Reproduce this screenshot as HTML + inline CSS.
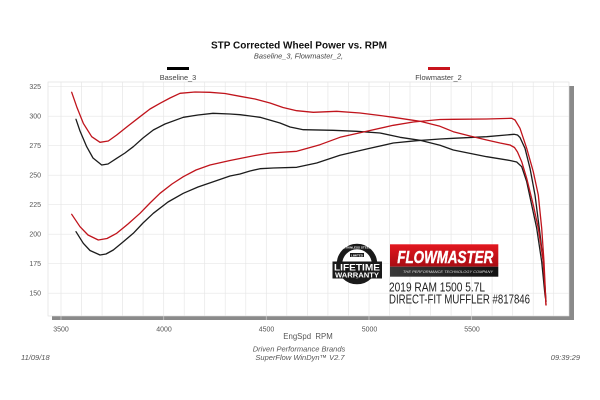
<!DOCTYPE html>
<html><head><meta charset="utf-8"><style>
html,body{margin:0;padding:0;background:#fff;}
svg{display:block;}
text{font-family:"Liberation Sans",Arial,sans-serif;}
</style></head><body>
<svg width="600" height="400" viewBox="0 0 600 400" xmlns="http://www.w3.org/2000/svg">
<defs>
<linearGradient id="rg" x1="0" y1="0" x2="0" y2="1">
<stop offset="0" stop-color="#e3171f"/><stop offset="1" stop-color="#a80d14"/>
</linearGradient>
<linearGradient id="dg" x1="0" y1="0" x2="1" y2="0">
<stop offset="0" stop-color="#3a3a3a"/><stop offset="1" stop-color="#111"/>
</linearGradient>
</defs>
<rect width="600" height="400" fill="#fff"/>
<!-- titles -->
<text x="299" y="48.3" font-size="10" font-weight="bold" text-anchor="middle" fill="#111">STP Corrected Wheel Power vs. RPM</text>
<text x="298.5" y="58.3" font-size="7.4" font-style="italic" text-anchor="middle" fill="#444">Baseline_3, Flowmaster_2,</text>
<!-- legend -->
<rect x="167" y="67" width="22" height="3" fill="#000"/>
<text x="178" y="80" font-size="7.4" text-anchor="middle" fill="#444">Baseline_3</text>
<rect x="428" y="67" width="22" height="3" fill="#c8141c"/>
<text x="438.5" y="80" font-size="7.4" text-anchor="middle" fill="#444">Flowmaster_2</text>
<!-- plot frame with shadow -->
<rect x="52" y="86" width="522" height="234" fill="#8a8a8a"/>
<rect x="48" y="82" width="521" height="234" fill="#fff" stroke="#dcdcdc" stroke-width="0.6"/>
<g stroke="#c8c8c8" stroke-width="0.8">
<line x1="61" y1="316" x2="61" y2="320"/><line x1="163.7" y1="316" x2="163.7" y2="320"/><line x1="266.3" y1="316" x2="266.3" y2="320"/><line x1="369" y1="316" x2="369" y2="320"/><line x1="471.6" y1="316" x2="471.6" y2="320"/>
</g>
<!-- grid -->
<g stroke="#e6e6e6" stroke-width="0.7">
<line x1="61" y1="82" x2="61" y2="316"/><line x1="81.5" y1="82" x2="81.5" y2="316"/><line x1="102.1" y1="82" x2="102.1" y2="316"/><line x1="122.6" y1="82" x2="122.6" y2="316"/><line x1="143.1" y1="82" x2="143.1" y2="316"/><line x1="163.7" y1="82" x2="163.7" y2="316"/><line x1="184.2" y1="82" x2="184.2" y2="316"/><line x1="204.7" y1="82" x2="204.7" y2="316"/><line x1="225.2" y1="82" x2="225.2" y2="316"/><line x1="245.8" y1="82" x2="245.8" y2="316"/><line x1="266.3" y1="82" x2="266.3" y2="316"/><line x1="286.8" y1="82" x2="286.8" y2="316"/><line x1="307.4" y1="82" x2="307.4" y2="316"/><line x1="327.9" y1="82" x2="327.9" y2="316"/><line x1="348.4" y1="82" x2="348.4" y2="316"/><line x1="369" y1="82" x2="369" y2="316"/><line x1="389.5" y1="82" x2="389.5" y2="316"/><line x1="410" y1="82" x2="410" y2="316"/><line x1="430.5" y1="82" x2="430.5" y2="316"/><line x1="451.1" y1="82" x2="451.1" y2="316"/><line x1="471.6" y1="82" x2="471.6" y2="316"/><line x1="492.1" y1="82" x2="492.1" y2="316"/><line x1="512.7" y1="82" x2="512.7" y2="316"/><line x1="533.2" y1="82" x2="533.2" y2="316"/><line x1="553.7" y1="82" x2="553.7" y2="316"/>
<line x1="48" y1="86.7" x2="569" y2="86.7"/><line x1="48" y1="116.2" x2="569" y2="116.2"/><line x1="48" y1="145.7" x2="569" y2="145.7"/><line x1="48" y1="175.2" x2="569" y2="175.2"/><line x1="48" y1="204.7" x2="569" y2="204.7"/><line x1="48" y1="234.2" x2="569" y2="234.2"/><line x1="48" y1="263.7" x2="569" y2="263.7"/><line x1="48" y1="293.2" x2="569" y2="293.2"/>
</g>
<!-- y labels -->
<g font-size="7" fill="#555" text-anchor="end">
<text x="41" y="89.2">325</text><text x="41" y="118.7">300</text><text x="41" y="148.2">275</text><text x="41" y="177.7">250</text><text x="41" y="207.2">225</text><text x="41" y="236.7">200</text><text x="41" y="266.2">175</text><text x="41" y="295.7">150</text>
</g>
<!-- x labels -->
<g font-size="7" fill="#555" text-anchor="middle">
<text x="61" y="331.5">3500</text><text x="164" y="331.5">4000</text><text x="266.5" y="331.5">4500</text><text x="369.5" y="331.5">5000</text><text x="472" y="331.5">5500</text>
</g>
<text x="308" y="339" font-size="7.8" fill="#555" text-anchor="middle" xml:space="preserve">EngSpd  RPM</text>
<text x="299" y="351.5" font-size="7.5" font-style="italic" fill="#555" text-anchor="middle">Driven Performance Brands</text>
<text x="300" y="360" font-size="7.5" font-style="italic" fill="#555" text-anchor="middle">SuperFlow WinDyn™ V2.7</text>
<text x="21" y="360" font-size="7.5" font-style="italic" fill="#555">11/09/18</text>
<text x="580" y="360" font-size="7.5" font-style="italic" fill="#555" text-anchor="end">09:39:29</text>
<!-- badge -->
<g>
<circle cx="357" cy="264" r="17.5" fill="#fff" stroke="#1a1a1a" stroke-width="5.5"/>
<rect x="350" y="253" width="14" height="4" fill="#1a1a1a"/>
<text x="357" y="248.5" font-size="3" font-weight="bold" fill="#fff" text-anchor="middle">STAINLESS STEEL</text>
<text x="357" y="256.3" font-size="3" font-weight="bold" fill="#fff" text-anchor="middle">LIMITED</text>
<rect x="332.5" y="261.5" width="49.5" height="17" fill="#1a1a1a"/>
<text x="357" y="270.5" font-size="9" font-weight="bold" fill="#fff" text-anchor="middle" textLength="46" lengthAdjust="spacingAndGlyphs">LIFETIME</text>
<text x="357" y="277.6" font-size="7" font-weight="bold" fill="#fff" text-anchor="middle" textLength="44" lengthAdjust="spacingAndGlyphs">WARRANTY</text>
</g>
<!-- flowmaster box -->
<rect x="390" y="244.3" width="108.3" height="22.4" fill="url(#rg)"/>
<rect x="390" y="266.7" width="108.3" height="10" fill="url(#dg)"/>
<text x="397.3" y="263" font-size="17.5" font-weight="bold" font-style="italic" fill="#fff" stroke="#fff" stroke-width="0.4" textLength="96" lengthAdjust="spacingAndGlyphs">FLOWMASTER</text>
<text x="403" y="273" font-size="3.6" font-style="italic" fill="#ddd" textLength="90" lengthAdjust="spacingAndGlyphs">THE PERFORMANCE TECHNOLOGY COMPANY</text>
<text x="389" y="291.5" font-size="12.5" fill="#222" textLength="96" lengthAdjust="spacingAndGlyphs">2019 RAM 1500 5.7L</text>
<text x="389" y="303.5" font-size="12.5" fill="#222" textLength="141" lengthAdjust="spacingAndGlyphs">DIRECT-FIT MUFFLER #817846</text>
<!-- series -->
<g fill="none" stroke-width="1.3" stroke-linejoin="round" stroke-linecap="round">
<polyline stroke="#1c1c1c" points="76,119.3 80,131 86.7,146.7 93,158 101.7,165 108,164 116.7,158.3 125,153 133.3,146.7 143,138 153.3,130 165,124 183.3,117.3 198,115 213,113.3 230,114 240,114.7 260,117.3 280,123 290,127 303.3,129.7 333.3,130.3 356.7,131.3 380,133 400,137.3 420,140.3 440,145.3 453.3,150 486.7,156.7 510,160.5 516.7,162 521.7,166.7 526.7,181.7 531.7,205 536.7,228.3 541.7,261.7 545,295 546,301"/>
<polyline stroke="#1c1c1c" points="76,231.7 83.3,243.3 90,250.5 100,255 106,254 113.3,250 123,242 133.3,233.3 143,223 153.3,213.3 168,202 183.3,193.3 198,187 213.3,181.7 230,176 240,174 250,171 260,168.7 273.3,168 296.7,167.3 316.7,163 340,155.3 366.7,149 393.3,143 416.7,140.7 440,139 453.3,138.3 486.7,136.7 514,134.3 517.5,135 520,137.5 525,148.3 530,168.3 535,195 539.3,228.3 543.3,261.7 546,301.7"/>
<polyline stroke="#c0141c" points="71.7,92.3 76.7,106.7 83.3,123.3 91.7,136.7 100,142.3 108.3,141 116.7,135 128,126 140,116.7 150,109 160,103.3 170,98 180,93.3 195,92 210,92.3 225,93.5 240,96.3 255,99 270,103 283,107.5 296.7,110.7 313.3,112.3 336.7,111.3 360,113 380,115.5 393.3,117.3 420,121.3 440,126.3 453.3,131.7 470,136 486.7,140 500,143 510,145 514.5,147.5 517.5,152 521.7,161.7 526.7,178.3 533.3,205 538.3,228.3 543.3,261.7 546,305"/>
<polyline stroke="#c0141c" points="71.7,214.3 80,226.7 88,235 98.3,240 107,238.5 116.7,233.3 128,224 140,213.3 150,203 160,193.3 172,184 183.3,176.7 196,170 210,165 230,160.5 240,158.5 255,155.5 270,153 296.7,151.3 320,144.7 340,137.3 366.7,131.3 393.3,125.3 413.3,122 440,119.5 453.3,119.3 486.7,119 511.7,118.3 515,120 520,128.3 526.7,148.3 533.3,171.7 538.3,195 541.7,228.3 544,261.7 546,305"/>
</g>
</svg>
</body></html>
